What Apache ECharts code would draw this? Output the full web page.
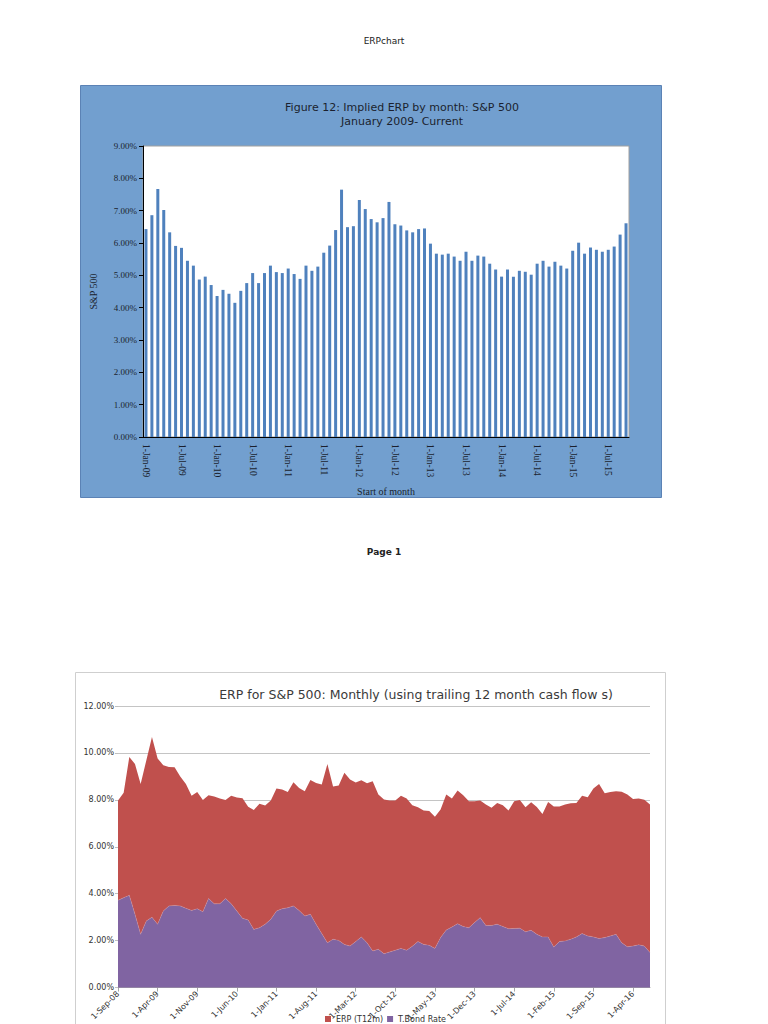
<!DOCTYPE html>
<html>
<head>
<meta charset="utf-8">
<title>ERPchart</title>
<script src="https://cdn.jsdelivr.net/npm/echarts/dist/echarts.min.js"></script>
<style>
  html, body { margin: 0; padding: 0; background: #fff; }
  #page { width: 768px; height: 1024px; }
</style>
</head>
<body>
<div id="page"></div>
<script>
// month names used to build the category labels (1-Jan-09 style)
const MONTHS = ["Jan", "Feb", "Mar", "Apr", "May", "Jun", "Jul", "Aug", "Sep", "Oct", "Nov", "Dec"];

function monthLabels(year, month, count) {
  const out = [];
  for (let i = 0; i < count; i++) {
    const m = (month + i) % 12;
    const y = year + Math.floor((month + i) / 12);
    out.push("1-" + MONTHS[m] + "-" + String(y % 100).padStart(2, "0"));
  }
  return out;
}

// Figure 12: implied ERP by month, Jan 2009 - Oct 2015 (%)
const impliedMonths = monthLabels(2009, 0, 82);
const impliedERP = [
  6.43, 6.86, 7.67, 7.02, 6.33, 5.91, 5.85, 5.45, 5.30, 4.87, 4.96, 4.70,
  4.36, 4.55, 4.43, 4.15, 4.52, 4.76, 5.07, 4.76, 5.07, 5.30, 5.10, 5.07,
  5.21, 5.04, 4.89, 5.30, 5.14, 5.27, 5.70, 5.92, 6.40, 7.65, 6.49, 6.52,
  7.33, 7.05, 6.74, 6.64, 6.77, 7.27, 6.58, 6.54, 6.39, 6.33, 6.43, 6.45,
  5.98, 5.67, 5.64, 5.67, 5.58, 5.45, 5.73, 5.45, 5.61, 5.58, 5.36, 5.18,
  4.96, 5.18, 4.96, 5.14, 5.11, 5.02, 5.36, 5.45, 5.27, 5.42, 5.30, 5.21,
  5.76, 6.01, 5.67, 5.86, 5.79, 5.73, 5.79, 5.89, 6.26, 6.61
];

// ERP for S&P 500 monthly (trailing 12m cash flows), Sep 2008 - Jul 2016 (%)
const monthlyMonths = monthLabels(2008, 8, 95);
const tBondRate = [
  3.72, 3.83, 3.93, 3.12, 2.27, 2.84, 3.00, 2.70, 3.26, 3.48, 3.50, 3.48,
  3.38, 3.29, 3.36, 3.23, 3.80, 3.57, 3.57, 3.80, 3.57, 3.26, 2.95, 2.88,
  2.48, 2.55, 2.70, 2.91, 3.26, 3.36, 3.40, 3.48, 3.29, 3.05, 3.12, 2.70,
  2.30, 1.91, 2.06, 2.01, 1.84, 1.77, 1.96, 2.16, 1.91, 1.56, 1.63, 1.44,
  1.52, 1.59, 1.67, 1.59, 1.76, 1.96, 1.84, 1.80, 1.67, 2.13, 2.45, 2.58,
  2.72, 2.60, 2.55, 2.77, 2.98, 2.65, 2.65, 2.70, 2.60, 2.51, 2.52, 2.53,
  2.38, 2.44, 2.27, 2.16, 2.16, 1.73, 1.96, 1.99, 2.06, 2.16, 2.30, 2.20,
  2.16, 2.09, 2.13, 2.20, 2.27, 1.91, 1.74, 1.77, 1.82, 1.77, 1.49
];
const erpT12m = [
  4.25, 4.47, 5.90, 6.41, 6.41, 6.84, 7.68, 7.06, 6.22, 5.92, 5.89, 5.52,
  5.30, 4.89, 4.97, 4.76, 4.40, 4.57, 4.49, 4.19, 4.61, 4.84, 5.12, 4.83,
  5.09, 5.28, 5.06, 5.06, 5.22, 5.08, 4.94, 5.27, 5.22, 5.32, 5.73, 6.02,
  6.35, 7.62, 6.51, 6.60, 7.31, 7.10, 6.78, 6.68, 6.80, 7.23, 6.60, 6.57,
  6.45, 6.38, 6.51, 6.47, 6.01, 5.73, 5.71, 5.72, 5.61, 5.46, 5.78, 5.48,
  5.68, 5.60, 5.39, 5.17, 4.99, 5.15, 5.01, 5.17, 5.17, 5.04, 5.42, 5.46,
  5.31, 5.46, 5.43, 5.24, 5.75, 5.99, 5.76, 5.81, 5.80, 5.71, 5.88, 5.91,
  6.32, 6.59, 6.15, 6.13, 6.10, 6.44, 6.49, 6.27, 6.24, 6.23, 6.31
];

const chart = echarts.init(document.getElementById("page"), null, { renderer: "svg" });

const serif = "Liberation Serif";
const sans = "DejaVu Sans";

const option = {
  animation: false,
  graphic: [
    // page header / footer of the pdf page
    { type: "text", x: 384, y: 41, style: { text: "ERPchart", font: "9px " + sans, fill: "#222", textAlign: "center", textVerticalAlign: "middle" } },
    { type: "text", x: 384, y: 552, style: { text: "Page 1", font: "bold 9px " + sans, fill: "#222", textAlign: "center", textVerticalAlign: "middle" } },
    // blue frame behind figure 12
    { type: "rect", z: -10, shape: { x: 80.5, y: 85.5, width: 581, height: 412 }, style: { fill: "#729fcf", stroke: "#5b82b5", lineWidth: 1 } },
    { type: "text", x: 402, y: 107, style: { text: "Figure 12: Implied ERP by month: S&P 500", font: "11px " + sans, fill: "#1b1f2e", textAlign: "center", textVerticalAlign: "middle" } },
    { type: "text", x: 402, y: 121, style: { text: "January 2009- Current", font: "11px " + sans, fill: "#1b1f2e", textAlign: "center", textVerticalAlign: "middle" } },
    // frame of the second chart
    { type: "rect", z: -10, shape: { x: 75.5, y: 672.5, width: 590, height: 400 }, style: { fill: "#fff", stroke: "#cfcfcf", lineWidth: 1 } },
    { type: "text", x: 416, y: 694, style: { text: "ERP for S&P 500: Monthly (using trailing 12 month cash flow s)", font: "12.5px " + sans, fill: "#3a3a3a", textAlign: "center", textVerticalAlign: "middle" } }
  ],
  grid: [
    { left: 143, top: 146, width: 486, height: 291, show: true, backgroundColor: "#fff", borderColor: "#a0a0a0", borderWidth: 1 },
    { left: 118, top: 706, width: 532, height: 282 }
  ],
  legend: {
    data: ["ERP (T12m)", "T.Bond Rate"],
    left: 320,
    top: 1010,
    icon: "rect",
    itemWidth: 6,
    itemHeight: 6,
    itemGap: 4,
    textStyle: { fontFamily: sans, fontSize: 8, color: "#333" }
  },
  xAxis: [
    {
      gridIndex: 0,
      type: "category",
      data: impliedMonths,
      boundaryGap: true,
      name: "Start of month",
      nameLocation: "middle",
      nameGap: 49,
      nameTextStyle: { fontFamily: serif, fontSize: 10, color: "#1b1f2e" },
      axisLine: { lineStyle: { color: "#000", width: 1 } },
      axisTick: { interval: 2, length: 5, lineStyle: { color: "#000" } },
      axisLabel: { interval: 5, rotate: -90, margin: 7, fontFamily: serif, fontSize: 9.5, color: "#1b1f2e" }
    },
    {
      gridIndex: 1,
      type: "category",
      data: monthlyMonths,
      boundaryGap: false,
      axisLine: { lineStyle: { color: "#a6a6a6" } },
      axisTick: { interval: 6, length: 4, lineStyle: { color: "#a6a6a6" } },
      axisLabel: { interval: 6, rotate: 45, margin: 5, fontFamily: sans, fontSize: 8, color: "#333" }
    }
  ],
  yAxis: [
    {
      gridIndex: 0,
      type: "value",
      min: 0,
      max: 9,
      interval: 1,
      name: "S&P 500",
      nameLocation: "middle",
      nameGap: 45,
      nameTextStyle: { fontFamily: serif, fontSize: 10, color: "#1b1f2e" },
      axisLine: { show: true, lineStyle: { color: "#000" } },
      axisTick: { show: true, length: 4, lineStyle: { color: "#000" } },
      splitLine: { show: false },
      axisLabel: { formatter: (v) => v.toFixed(2) + "%", fontFamily: serif, fontSize: 9, color: "#1b1f2e", margin: 6 }
    },
    {
      gridIndex: 1,
      type: "value",
      min: 0,
      max: 12,
      interval: 2,
      axisLine: { show: false },
      axisTick: { show: true, length: 3, lineStyle: { color: "#bfbfbf" } },
      splitLine: { lineStyle: { color: "#c4c4c4", width: 1 } },
      axisLabel: { formatter: (v) => v.toFixed(2) + "%", fontFamily: sans, fontSize: 8, color: "#333", margin: 4 }
    }
  ],
  series: [
    {
      name: "S&P 500",
      type: "bar",
      xAxisIndex: 0,
      yAxisIndex: 0,
      data: impliedERP,
      barWidth: 3,
      itemStyle: { color: "#4f81bd" }
    },
    {
      name: "T.Bond Rate",
      type: "line",
      xAxisIndex: 1,
      yAxisIndex: 1,
      stack: "erp",
      data: tBondRate,
      showSymbol: false,
      lineStyle: { width: 0.6, color: "#c9a3b8", type: "dotted" },
      areaStyle: { color: "#8064a2", opacity: 1 },
      itemStyle: { color: "#8064a2" }
    },
    {
      name: "ERP (T12m)",
      type: "line",
      xAxisIndex: 1,
      yAxisIndex: 1,
      stack: "erp",
      data: erpT12m,
      showSymbol: false,
      lineStyle: { width: 0 },
      areaStyle: { color: "#c0504d", opacity: 1 },
      itemStyle: { color: "#c0504d" }
    }
  ]
};

chart.setOption(option);
</script>
</body>
</html>
